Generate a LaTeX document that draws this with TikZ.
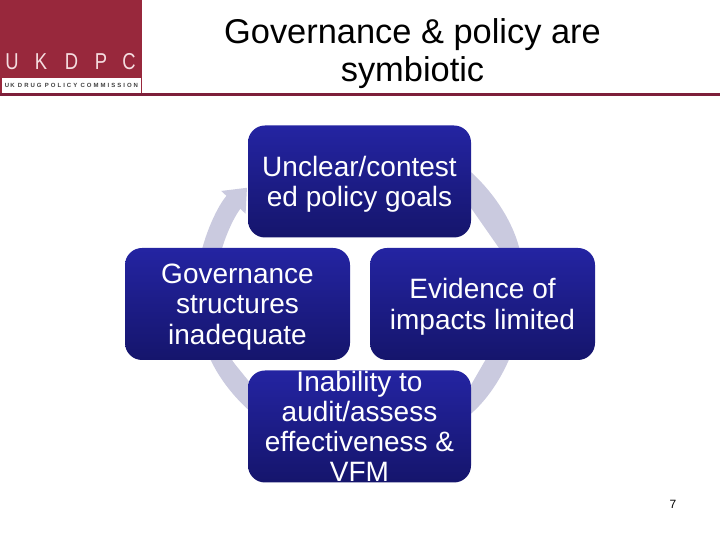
\documentclass[tikz,border=0pt]{standalone}
\usepackage{fontspec}
\setmainfont{Liberation Sans}
\usetikzlibrary{arrows.meta,backgrounds}

\definecolor{logored}{HTML}{98283C}
\definecolor{rulered}{HTML}{7D1F3A}
\definecolor{logopink}{HTML}{F5DDE0}
\definecolor{boxtop}{HTML}{2424A2}
\definecolor{boxbottom}{HTML}{15156C}
\definecolor{ringgrey}{HTML}{CACADF}

\tikzset{
	cyclebox/.style={rounded corners=17pt, top color=boxtop, bottom color=boxbottom,
		text=white, align=center, inner sep=0pt, outer sep=0pt, minimum height=112pt,
		text depth=0pt, font=\fontsize{28}{30.5}\selectfont},
	cyclearrow/.style={-{Triangle[width=32pt,length=20pt]}, draw=ringgrey, fill=ringgrey, line width=19pt},
	logoletter/.style={text=logopink, inner sep=0pt, xscale=0.8, transform shape, font=\fontsize{23}{23}\selectfont}
}

\begin{document}
\begin{tikzpicture}[x=1pt, y=1pt]
		\useasboundingbox (0, 0) rectangle (720, 540);

		\path (71, 493)      node[fill=logored, minimum width=142pt, minimum height=94pt, inner sep=0pt] (logo) {}
		      (71.5, 454.5)  node[fill=white, minimum width=139pt, minimum height=15pt, inner sep=0pt] (band)
		                     {\fontsize{6}{6}\selectfont\bfseries\textcolor{black!75}{U\,K\ \ D\,\,R\,\,U\,\,G\ \ P\,\,O\,\,L\,\,I\,\,C\,\,Y\ \ C\,\,O\,\,M\,\,M\,\,I\,\,S\,\,S\,\,I\,\,O\,\,N}}
		      (12, 478)      node[logoletter] (letteru) {U}
		      (41, 478)      node[logoletter] (letterk) {K}
		      (71.5, 478)    node[logoletter] (letterd) {D}
		      (101, 478)     node[logoletter] (letterp) {P}
		      (129, 478)     node[logoletter] (letterc) {C}
		      (360, 445)     node[fill=rulered, minimum width=720pt, minimum height=3pt, inner sep=0pt] (rule) {};

		\path (412.5, 486)   node[align=center, font=\fontsize{34.4}{38}\selectfont] (title) {Governance \& policy are\\symbiotic}
		      (673, 36)      node[font=\fontsize{12}{14}\selectfont] (pagenum) {7};

		\path (359.5, 358.5) node[cyclebox, minimum width=223pt] (top) {Unclear/contest\\ed policy goals}
		      (237.5, 236)   node[cyclebox, minimum width=225pt] (left) {Governance\\structures\\inadequate}
		      (482.5, 236)   node[cyclebox, minimum width=225pt] (right) {Evidence of\\impacts limited}
		      (359.5, 113.5) node[cyclebox, minimum width=223pt, text height=111pt, text depth=0pt, font=\fontsize{28}{30}\selectfont] (bottom) {Inability to\\audit/assess\\effectiveness \&\\VFM};

		\begin{scope}[on background layer]
			\draw[cyclearrow] (top) ++(77, 23) arc[start angle=60, end angle=2, radius=154pt];
			\draw[cyclearrow] (right) ++(30, -9) arc[start angle=-8, end angle=-60, radius=152pt];
			\draw[cyclearrow] (bottom) ++(-76, 2.5) arc[start angle=-120, end angle=-170, radius=152pt];
			\draw[cyclearrow] (left) ++(-29.5, 38) arc[start angle=170, end angle=137, radius=154pt];
		\end{scope}
	\end{tikzpicture}
\end{document}
